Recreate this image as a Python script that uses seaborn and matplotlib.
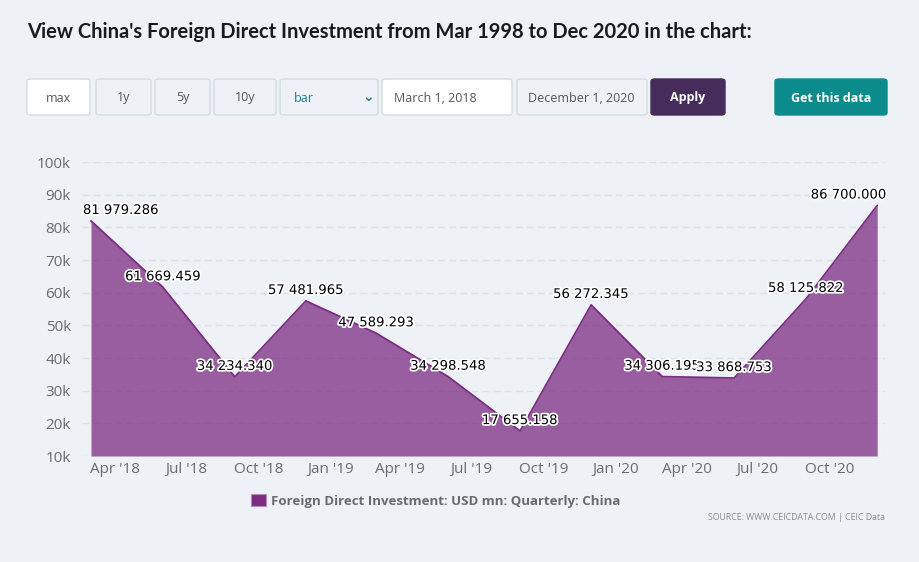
import matplotlib
matplotlib.use("Agg")
import matplotlib.pyplot as plt
import matplotlib.dates as mdates
import matplotlib.patheffects as pe
from matplotlib.patches import FancyBboxPatch, Rectangle
import pandas as pd
import seaborn as sns

# ---------------- data ----------------
quarters = ["2018-03-01", "2018-06-01", "2018-09-01", "2018-12-01",
            "2019-03-01", "2019-06-01", "2019-09-01", "2019-12-01",
            "2020-03-01", "2020-06-01", "2020-09-01", "2020-12-01"]
values = [81979.286, 61669.459, 34234.340, 57481.965,
          47589.293, 34298.548, 17655.158, 56272.345,
          34306.195, 33868.753, 58125.822, 86700.000]
value_labels = ["81 979.286", "61 669.459", "34 234.340", "57 481.965",
                "47 589.293", "34 298.548", "17 655.158", "56 272.345",
                "34 306.195", "33 868.753", "58 125.822", "86 700.000"]
tick_dates = ["2018-04-01", "2018-07-01", "2018-10-01", "2019-01-01",
              "2019-04-01", "2019-07-01", "2019-10-01", "2020-01-01",
              "2020-04-01", "2020-07-01", "2020-10-01"]
tick_labels = ["Apr '18", "Jul '18", "Oct '18", "Jan '19", "Apr '19", "Jul '19",
               "Oct '19", "Jan '20", "Apr '20", "Jul '20", "Oct '20"]
y_ticks = [10000, 20000, 30000, 40000, 50000, 60000, 70000, 80000, 90000, 100000]
y_tick_labels = ["10k", "20k", "30k", "40k", "50k", "60k", "70k", "80k", "90k", "100k"]
series_name = "Foreign Direct Investment: USD mn: Quarterly: China"
title = "View China's Foreign Direct Investment from Mar 1998 to Dec 2020 in the chart:"

# ---------------- style ----------------
W, H = 920, 562
BG = "#eef2f6"
LINE = "#7b2d82"
FILL = "#7b2d82"
GRID = "#dde2e7"
TICK = "#6b6b6b"

sns.set_theme(style="white")
plt.rcParams['font.family'] = ['Open Sans', 'DejaVu Sans']

fig = plt.figure(figsize=(W / 100, H / 100), dpi=100, facecolor=BG)


def fx(x):
    return x / W


def fy(y):
    return 1 - y / H


# title
fig.text(fx(27), fy(32), title, ha="left", va="center", fontsize=14.5,
         fontweight="bold", color="#1a1a1a", family=["Lato", "DejaVu Sans"])


# control buttons
def button(x0, x1, text, face, edge, tcolor, bold=False, ha="center", tx=None):
    b = FancyBboxPatch((fx(x0), fy(115)), fx(x1 - x0), (115 - 79) / H,
                       boxstyle="round,pad=0,rounding_size=0.004",
                       transform=fig.transFigure, facecolor=face, edgecolor=edge,
                       linewidth=1.0)
    fig.patches.append(b)
    xx = (x0 + x1) / 2 if tx is None else tx
    fig.text(fx(xx), fy(98), text, ha=ha, va="center", fontsize=9,
             color=tcolor, fontweight="bold" if bold else "normal")


button(27, 90, "max", "#ffffff", "#cfdde3", "#555555")
button(96, 151, "1y", BG, "#cfdde3", "#555555")
button(155, 210, "5y", BG, "#cfdde3", "#555555")
button(214, 276, "10y", BG, "#cfdde3", "#555555")
button(280, 378, "bar", BG, "#cfdde3", "#1a7f8f", ha="left", tx=294)
fig.text(fx(368), fy(97), "\u2304", ha="center", va="center", fontsize=10,
         color="#1a7f8f", fontweight="bold", family=["DejaVu Sans"])
button(382, 512, "March 1, 2018", "#ffffff", "#cfdde3", "#555555", ha="left", tx=394)
button(517, 647, "December 1, 2020", BG, "#cfdde3", "#555555", ha="left", tx=528)
button(651, 725, "Apply", "#452c5a", "#452c5a", "#ffffff", bold=True)
button(775, 887, "Get this data", "#0b8b8b", "#0b8b8b", "#ffffff", bold=True)

# ---------------- chart ----------------
ax = fig.add_axes([fx(82), 106 / H, (885 - 82) / W, (456 - 162) / H])
ax.set_facecolor(BG)

df = pd.DataFrame({"date": pd.to_datetime(quarters), "value": values})
sns.lineplot(data=df, x="date", y="value", ax=ax, color=LINE, linewidth=1.3, zorder=3)
ax.fill_between(df["date"], df["value"], y_ticks[0], color=FILL, alpha=0.75,
                linewidth=0, zorder=2)

ax.set_xlim(df["date"].iloc[0] - pd.Timedelta(days=11.5),
            df["date"].iloc[-1] + pd.Timedelta(days=10))
ax.set_ylim(y_ticks[0], y_ticks[-1])
ax.set_yticks(y_ticks)
ax.set_yticklabels(y_tick_labels)
ax.set_xticks(pd.to_datetime(tick_dates))
ax.set_xticklabels(tick_labels)
ax.tick_params(axis="both", length=0, labelsize=11, colors=TICK)
ax.tick_params(axis="y", pad=8)
ax.tick_params(axis="x", pad=4)
ax.set_xlabel("")
ax.set_ylabel("")
for s in ax.spines.values():
    s.set_visible(False)
ax.yaxis.grid(True, color=GRID, linestyle=(0, (5, 3)), linewidth=1.0, zorder=1)
ax.xaxis.grid(False)
ax.set_axisbelow(True)

# data labels
n = len(values)
for i, (d, v, t) in enumerate(zip(df["date"], values, value_labels)):
    if i == 0:
        ha, dx = "left", -5.8
    elif i == n - 1:
        ha, dx = "right", 6.5
    else:
        ha, dx = "center", 0
    ax.annotate(t, (d, v), xytext=(dx, 7.5), textcoords="offset points",
                ha=ha, va="center", fontsize=9.5, color="#000000",
                family=["DejaVu Sans"], zorder=5, annotation_clip=False,
                path_effects=[pe.withStroke(linewidth=2.5, foreground="white")])

# legend
handle = Rectangle((0, 0), 1, 1, facecolor=LINE, edgecolor="#b58cb9", linewidth=0.8)
leg = fig.legend([handle], [series_name], loc="center", bbox_to_anchor=(fx(436), fy(501)),
                 frameon=False, handlelength=1.1, handleheight=0.95, handletextpad=0.4,
                 prop={"weight": "bold", "size": 9.5})
for t in leg.get_texts():
    t.set_color("#6b6b6b")

# source
fig.text(fx(885), fy(517), "SOURCE: WWW.CEICDATA.COM | CEIC Data", ha="right",
         va="center", fontsize=6.3, color="#8a8a8a")

fig.savefig("out.png", dpi=100, facecolor=BG)
